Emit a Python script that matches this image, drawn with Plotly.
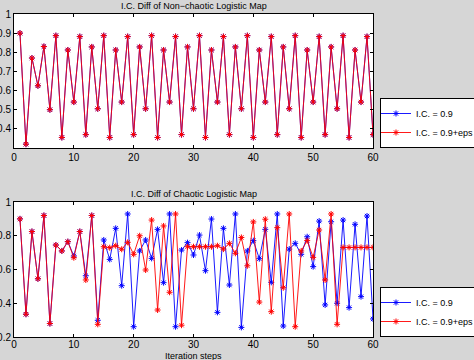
import plotly.graph_objects as go

steps = list(range(1, 61))

# Top panel: non-chaotic logistic map (both initial conditions coincide)
nonchaotic_ic = [0.90, 0.32, 0.77, 0.625, 0.83, 0.50,
                 0.887, 0.355, 0.812, 0.54, 0.882, 0.37, 0.828, 0.505,
                 0.887, 0.355, 0.812, 0.54, 0.882, 0.37, 0.828, 0.505,
                 0.887, 0.355, 0.812, 0.54, 0.882, 0.37, 0.828, 0.505,
                 0.887, 0.355, 0.812, 0.54, 0.882, 0.37, 0.828, 0.505,
                 0.887, 0.355, 0.812, 0.54, 0.882, 0.37, 0.828, 0.505,
                 0.887, 0.355, 0.812, 0.54, 0.882, 0.37, 0.828, 0.505,
                 0.887, 0.355, 0.812, 0.54, 0.882, 0.37]
nonchaotic_eps = list(nonchaotic_ic)

# Bottom panel: chaotic logistic map
chaotic_ic = [0.90, 0.335, 0.825, 0.545, 0.92, 0.28, 0.745, 0.71, 0.765, 0.68,
              0.825, 0.563, 0.92, 0.299, 0.775, 0.66, 0.844, 0.504, 0.929, 0.261,
              0.71, 0.775, 0.666, 0.838, 0.522, 0.929, 0.261, 0.715, 0.759, 0.686,
              0.804, 0.593, 0.899, 0.346, 0.844, 0.508, 0.929, 0.257, 0.71, 0.771,
              0.664, 0.838, 0.524, 0.929, 0.265, 0.721, 0.755, 0.69, 0.794, 0.617,
              0.887, 0.39, 0.883, 0.40, 0.893, 0.374, 0.868, 0.439, 0.917, 0.307]
chaotic_eps = [0.90, 0.335, 0.825, 0.545, 0.92, 0.28, 0.745, 0.71, 0.765, 0.67,
               0.825, 0.538, 0.92, 0.275, 0.735, 0.729, 0.741, 0.72, 0.761, 0.69,
               0.80, 0.597, 0.893, 0.36, 0.858, 0.465, 0.929, 0.27, 0.735, 0.735,
               0.735, 0.735, 0.735, 0.741, 0.721, 0.755, 0.696, 0.79, 0.622, 0.882,
               0.407, 0.898, 0.35, 0.848, 0.492, 0.929, 0.261, 0.71, 0.771, 0.672,
               0.834, 0.538, 0.929, 0.275, 0.731, 0.731, 0.731, 0.731, 0.731, 0.731]

series_names = ["I.C. = 0.9", "I.C. = 0.9+eps"]
colors = ["#0000ff", "#ff0000"]
x_ticks = [0, 10, 20, 30, 40, 50, 60]
top_yticks = [0.4, 0.5, 0.6, 0.7, 0.8, 0.9, 1]
bottom_yticks = [0.2, 0.4, 0.6, 0.8, 1]

FONT = "Liberation Sans, Arial, Helvetica, sans-serif"
W, H = 474, 360

fig = go.Figure()

def add(xs, ys, name, color, xa, ya, legend):
    fig.add_trace(go.Scatter(
        x=xs, y=ys, name=name, mode="lines+markers",
        line=dict(color=color, width=0.9),
        marker=dict(symbol="asterisk-open", size=5, color=color,
                    line=dict(color=color, width=1)),
        xaxis=xa, yaxis=ya, legend=legend))

add(steps, nonchaotic_ic, series_names[0], colors[0], "x", "y", "legend")
add(steps, nonchaotic_eps, series_names[1], colors[1], "x", "y", "legend")
add(steps, chaotic_ic, series_names[0], colors[0], "x2", "y2", "legend2")
add(steps, chaotic_eps, series_names[1], colors[1], "x2", "y2", "legend2")

x_dom = [14 / W, 373 / W]
top_dom = [1 - 148 / H, 1 - 14 / H]
bot_dom = [1 - 337 / H, 1 - 202 / H]

axis_common = dict(showline=True, linecolor="black", linewidth=1, mirror="allticks",
                   ticks="inside", ticklen=3, tickcolor="black", showgrid=False,
                   zeroline=False, tickfont=dict(family=FONT, size=10, color="black"))

legend_common = dict(x=380 / W, xanchor="left", yanchor="bottom",
                     bgcolor="white", bordercolor="black", borderwidth=1,
                     font=dict(family=FONT, size=9), tracegroupgap=0, indentation=-5)

fig.update_layout(
    width=W, height=H,
    paper_bgcolor="#d6d6d6", plot_bgcolor="white",
    margin=dict(l=0, r=0, t=0, b=0, autoexpand=False),
    font=dict(family=FONT, size=9, color="black"),
    xaxis=dict(domain=x_dom, range=[0, 60], tickvals=x_ticks, anchor="y", **axis_common),
    yaxis=dict(domain=top_dom, range=[0.3, 1], tickvals=top_yticks, anchor="x", **axis_common),
    xaxis2=dict(domain=x_dom, range=[0, 60], tickvals=x_ticks, anchor="y2",
                ticklabelstandoff=-2, **axis_common),
    yaxis2=dict(domain=bot_dom, range=[0.2, 1], tickvals=bottom_yticks, anchor="x2", **axis_common),
    legend=dict(y=top_dom[0], **legend_common),
    legend2=dict(y=bot_dom[0], **legend_common),
    annotations=[
        dict(text="I.C. Diff of Non\u2212chaotic Logistic Map", xref="x domain", yref="y domain",
             x=0.5, y=1, xanchor="center", yanchor="bottom", showarrow=False, yshift=1,
             font=dict(family=FONT, size=9)),
        dict(text="I.C. Diff of Chaotic Logistic Map", xref="x2 domain", yref="y2 domain",
             x=0.5, y=1, xanchor="center", yanchor="bottom", showarrow=False, yshift=1,
             font=dict(family=FONT, size=9)),
        dict(text="Iteration steps", xref="x2 domain", yref="paper",
             x=0.5, y=1 - 355.5 / H, xanchor="center", yanchor="middle", showarrow=False,
             font=dict(family=FONT, size=9)),
    ],
)

fig.write_html("out.html", config={"displayModeBar": False},
               post_script="document.body.style.margin='0';")
